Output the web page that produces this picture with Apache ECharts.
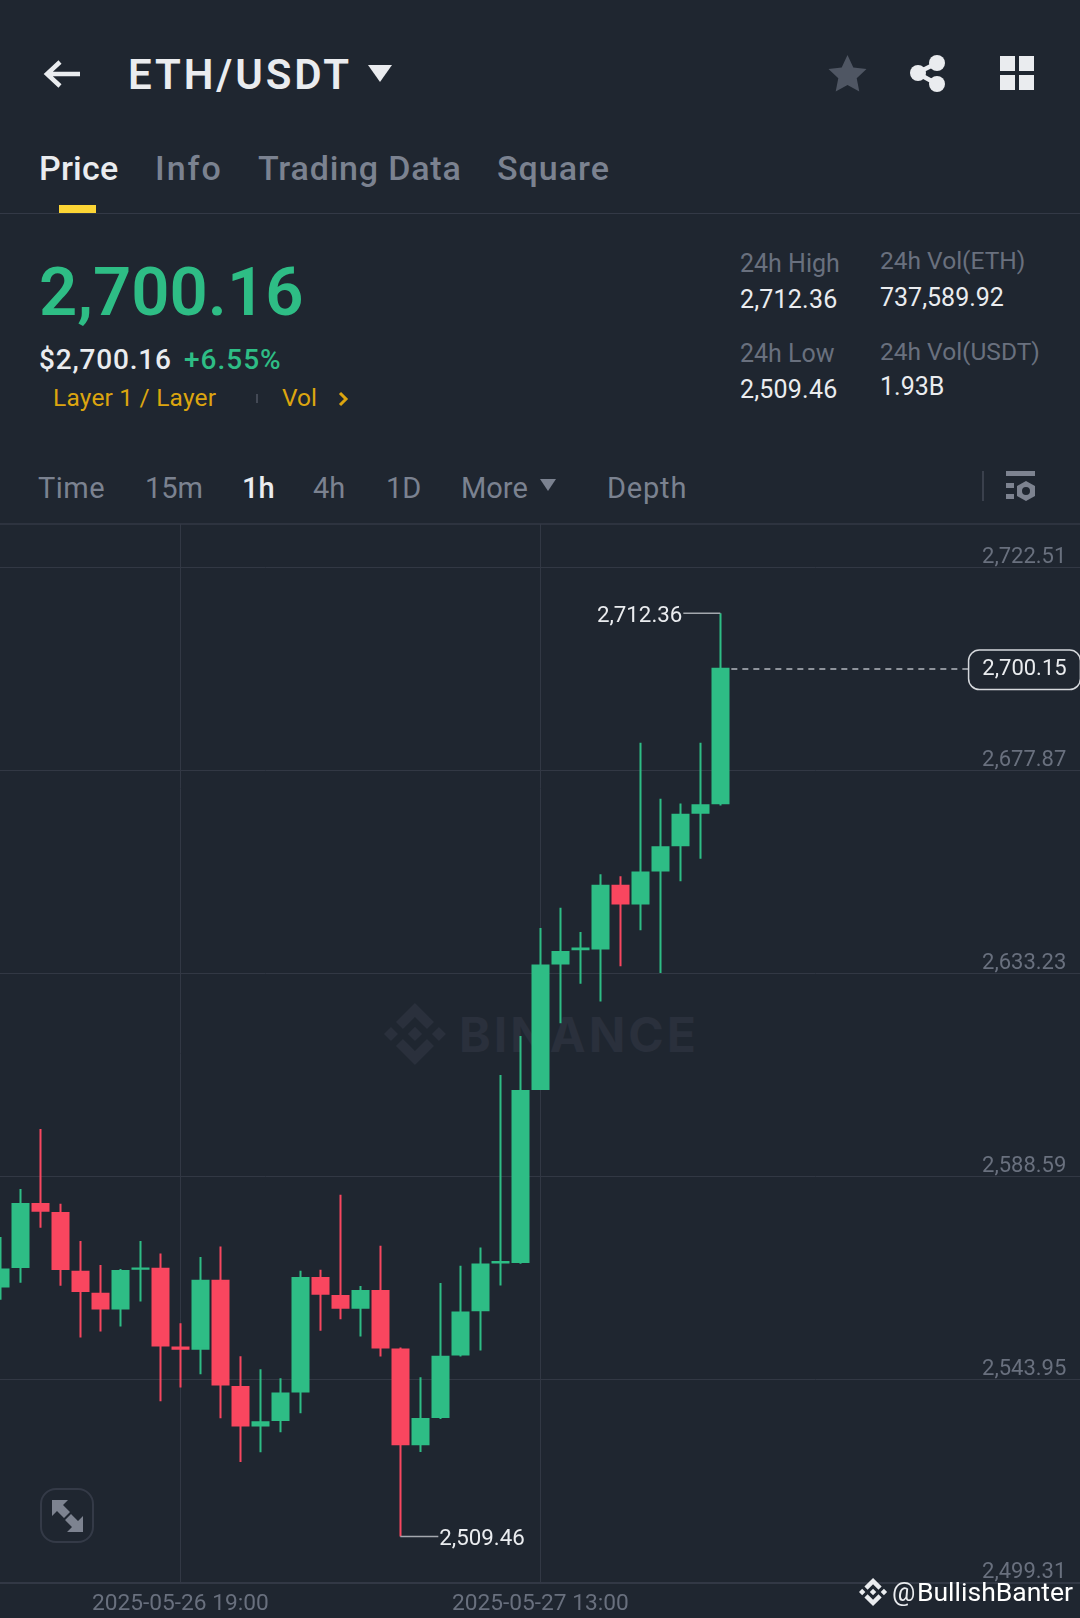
<!DOCTYPE html>
<html>
<head>
<meta charset="utf-8">
<title>ETH/USDT</title>
<script src="https://cdn.jsdelivr.net/npm/echarts@6/dist/echarts.min.js"></script>
<style>
html,body{margin:0;padding:0;background:#1f2630;width:1080px;height:1618px;overflow:hidden;font-family:Roboto,sans-serif}
#main{position:absolute;left:-20px;top:0;width:1120px;height:1618px;z-index:2}
#ui{position:absolute;left:0;top:0;width:1080px;height:1618px;z-index:1}
#top{position:absolute;left:0;top:0;width:1080px;height:1618px;z-index:3;pointer-events:none}
.t{position:absolute;white-space:nowrap;line-height:1}
.grey{color:#7b8290}
.dim{color:#69707e}
.white{color:#eaecef}
.gold{color:#dca50f}
svg{position:absolute;left:0;top:0}
</style>
</head>
<body>
<div id="ui">
  <svg width="1080" height="1618">
    <defs>
      <path id="logo" d="M7.34 10.08 12 5.42l4.66 4.66 2.71-2.71L12 0 4.63 7.37zM7.34 13.92 12 18.58l4.66-4.66 2.71 2.71L12 24l-7.37-7.37zM0 12l2.71-2.71L5.42 12l-2.71 2.71zM18.58 12l2.71-2.71L24 12l-2.71 2.71zM14.75 12 12 9.25 9.25 12 12 14.75z"/>
    </defs>
    <!-- watermark behind the candles -->
    <use href="#logo" transform="translate(384 1003) scale(2.58)" fill="#2a303c"/>
    <!-- header icons -->
    <path d="M80 74H48M60 62 47 74l13 12" fill="none" stroke="#eaecef" stroke-width="4.5"/>
    <path d="M368 65h24l-12 17z" fill="#eaecef"/>
    <path d="M847.5 55l5.8 12.4 13.2 1.6-9.8 9.2 2.6 13.3-11.8-6.6-11.8 6.6 2.6-13.3-9.8-9.2 13.2-1.6z" fill="#4f5663"/>
    <path d="M937 63 917 73 937 84" fill="none" stroke="#eaecef" stroke-width="4.5"/>
    <circle cx="937" cy="63" r="8" fill="#eaecef"/><circle cx="918" cy="73" r="8" fill="#eaecef"/><circle cx="937" cy="84" r="8" fill="#eaecef"/>
    <path d="M1000 56h15v15h-15zM1019 56h15v15h-15zM1000 75h15v15h-15zM1019 75h15v15h-15z" fill="#eaecef"/>
    <rect x="59" y="205" width="37" height="8" fill="#fcd535"/>
    <rect x="0" y="213" width="1080" height="1" fill="#333946"/>
    <rect x="256" y="394" width="2" height="9" fill="#434955"/>
    <path d="M340 393l6 6-6 6" fill="none" stroke="#dca50f" stroke-width="3"/>
    <path d="M540 479h16l-8 12z" fill="#7b8290"/>
    <rect x="982" y="471" width="2" height="30" fill="#3a404c"/>
    <path d="M1006 471h29v5h-29zM1006 483h8v5h-8zM1006 494h8v5h-8z" fill="#7d8390"/>
    <path fill-rule="evenodd" d="M1026 481l9 5v10l-9 5-9-5v-10zM1026 487a4 4 0 1 0 0 8 4 4 0 1 0 0-8z" fill="#7d8390"/>
    <rect x="0" y="523" width="1080" height="2" fill="#2d333f"/>
    <rect x="41" y="1489" width="52" height="53" rx="15" fill="none" stroke="#343a47" stroke-width="2"/>
    <path d="M52 1500h16l-5 5 7 7-6 6-7-7-5 5zM83 1532h-16l5-5-7-7 6-6 7 7 5-5z" fill="#7d8390"/>
  </svg>
  <div class="t" style="left:459px;top:1011px;font:700 48px Inter,sans-serif;letter-spacing:3px;color:#2a303c;line-height:1">BINANCE</div>

  <div class="t white" style="left:128px;top:54px;font-size:42px;font-weight:600;letter-spacing:2.9px">ETH/USDT</div>
  <div class="t white" style="left:39px;top:151px;font-size:34px;font-weight:500;letter-spacing:.2px">Price</div>
  <div class="t grey" style="left:155px;top:151px;font-size:34px;font-weight:500;letter-spacing:2px">Info</div>
  <div class="t grey" style="left:258px;top:151px;font-size:34px;font-weight:500;letter-spacing:.8px">Trading Data</div>
  <div class="t grey" style="left:497px;top:151px;font-size:34px;font-weight:500;letter-spacing:1px">Square</div>

  <div class="t" style="left:39px;top:259px;font-size:67px;font-weight:600;color:#2ebd85">2,700.16</div>
  <div class="t white" style="left:39px;top:346px;font-size:28px;font-weight:500;letter-spacing:.8px">$2,700.16</div>
  <div class="t" style="left:184px;top:346px;font-size:28px;font-weight:500;color:#2ebd85;letter-spacing:1px">+6.55%</div>
  <div class="t gold" style="left:53px;top:386px;font-size:24.5px;letter-spacing:.2px">Layer 1 / Layer</div>
  <div class="t gold" style="left:282px;top:386px;font-size:24.5px">Vol</div>

  <div class="t dim" style="left:740px;top:251px;font-size:25px">24h High</div>
  <div class="t white" style="left:740px;top:287px;font-size:25px;letter-spacing:.2px">2,712.36</div>
  <div class="t dim" style="left:740px;top:341px;font-size:25px">24h Low</div>
  <div class="t white" style="left:740px;top:377px;font-size:25px;letter-spacing:.2px">2,509.46</div>
  <div class="t dim" style="left:880px;top:249px;font-size:24.5px">24h Vol(ETH)</div>
  <div class="t white" style="left:880px;top:285px;font-size:25px">737,589.92</div>
  <div class="t dim" style="left:880px;top:340px;font-size:24.5px">24h Vol(USDT)</div>
  <div class="t white" style="left:880px;top:374px;font-size:25px">1.93B</div>

  <div class="t grey" style="left:38px;top:474px;font-size:29px;letter-spacing:.5px">Time</div>
  <div class="t grey" style="left:145px;top:474px;font-size:29px">15m</div>
  <div class="t white" style="left:242px;top:474px;font-size:29px;font-weight:500">1h</div>
  <div class="t grey" style="left:313px;top:474px;font-size:29px">4h</div>
  <div class="t grey" style="left:386px;top:474px;font-size:29px">1D</div>
  <div class="t grey" style="left:461px;top:474px;font-size:29px">More</div>
  <div class="t grey" style="left:607px;top:474px;font-size:29px;letter-spacing:.8px">Depth</div>
</div>
<div id="main"></div>
<div id="top">
  <svg width="1080" height="1618"><use href="#logo" transform="translate(859 1578) scale(1.17)" fill="#eaecef"/></svg>
  <div class="t white" style="left:892px;top:1579px;font-size:26px">@</div>
  <div class="t" style="left:917px;top:1579px;font-size:26.5px;color:#fff">BullishBanter</div>
</div>

<script>
// 1h candles, 2025-05-26 10:00 onwards
var categories = [
	'2025-05-26 10:00','2025-05-26 11:00','2025-05-26 12:00','2025-05-26 13:00','2025-05-26 14:00','2025-05-26 15:00',
	'2025-05-26 16:00','2025-05-26 17:00','2025-05-26 18:00','2025-05-26 19:00','2025-05-26 20:00','2025-05-26 21:00',
	'2025-05-26 22:00','2025-05-26 23:00','2025-05-27 00:00','2025-05-27 01:00','2025-05-27 02:00','2025-05-27 03:00',
	'2025-05-27 04:00','2025-05-27 05:00','2025-05-27 06:00','2025-05-27 07:00','2025-05-27 08:00','2025-05-27 09:00',
	'2025-05-27 10:00','2025-05-27 11:00','2025-05-27 12:00','2025-05-27 13:00','2025-05-27 14:00','2025-05-27 15:00',
	'2025-05-27 16:00','2025-05-27 17:00','2025-05-27 18:00','2025-05-27 19:00','2025-05-27 20:00','2025-05-27 21:00',
	'2025-05-27 22:00'
];
var opens = [
	2564.40,2568.67,2582.52,2580.54,2567.63,2562.80,2559.56,2568.29,2568.29,2550.99,2550.70,2565.65,
	2542.34,2533.83,2535.09,2541.31,2566.25,2562.29,2559.72,2563.39,2550.55,2529.74,2535.75,2549.45,
	2559.21,2569.68,2569.77,2607.81,2635.36,2638.51,2638.66,2652.45,2648.56,2655.81,2661.38,2668.50,
	2670.61
];
var closes = [
	2568.14,2582.52,2581.05,2568.23,2563.39,2559.56,2567.79,2568.36,2551.43,2550.70,2565.65,2542.85,
	2533.83,2534.58,2540.87,2566.25,2562.80,2559.72,2563.39,2550.99,2529.74,2535.31,2548.94,2558.68,
	2569.24,2569.77,2607.37,2634.92,2637.93,2638.66,2652.45,2648.56,2655.37,2660.94,2668.06,2670.17,
	2700.15
];
var lows = [
	2561.48,2565.21,2577.31,2564.55,2553.19,2554.50,2555.60,2561.10,2539.20,2542.19,2545.14,2535.46,
	2525.85,2527.98,2532.38,2536.56,2554.66,2557.23,2553.41,2549.01,2509.46,2528.05,2535.31,2549.01,
	2550.33,2564.62,2569.39,2607.60,2622.23,2630.96,2627.01,2634.77,2642.68,2633.32,2653.46,2658.39,
	2670.11
];
var highs = [
	2575.26,2585.82,2599.01,2582.59,2574.38,2569.11,2568.23,2574.38,2571.66,2556.35,2570.87,2573.20,
	2549.10,2546.24,2544.26,2567.85,2568.07,2584.56,2564.49,2573.35,2550.99,2544.48,2565.15,2568.95,
	2572.98,2610.89,2619.46,2643.21,2647.61,2642.33,2655.00,2654.56,2683.89,2671.58,2670.55,2683.89,
	2712.36
];
var yTicks = [2499.31,2543.95,2588.59,2633.23,2677.87,2722.51];
var labelledTimes = ['2025-05-26 19:00','2025-05-27 13:00'];
var lastPrice = 2700.15;
var highPrice = 2712.36;
var lowPrice = 2509.46;

function fmt(v) {
	return v.toLocaleString('en-US', {minimumFractionDigits: 2, maximumFractionDigits: 2});
}

// empty slots to the right of the last candle
var xData = categories.concat(new Array(18).fill(''));
var candles = opens.map(function(o, i) {
	return [o, closes[i], lows[i], highs[i]];
});
function isLabelled(index) {
	return labelledTimes.indexOf(xData[index]) >= 0;
}

// the chart div sticks out 20px each side so the first candle can sit half off the page
var myChart = echarts.init(document.getElementById('main'));
var option = {
	animation: false,
	backgroundColor: 'transparent',
	textStyle: {fontFamily: 'Roboto'},
	grid: {left: 10.33, right: 9.67, top: 524, bottom: 35.3},
	xAxis: {
		type: 'category',
		data: xData,
		boundaryGap: true,
		axisLine: {lineStyle: {color: '#323845', width: 2}},
		axisTick: {show: false},
		axisLabel: {interval: isLabelled, color: '#69707e', fontSize: 22.7, margin: 10},
		splitLine: {show: true, alignWithLabel: true, interval: isLabelled, lineStyle: {color: '#323844', width: 1}}
	},
	yAxis: {
		type: 'value',
		position: 'right',
		scale: true,
		min: 2499.31,
		max: 2731.97,
		axisLine: {show: false},
		axisTick: {show: false, customValues: yTicks},
		axisLabel: {
			inside: true,
			margin: 24,
			customValues: yTicks,
			color: '#69707e',
			fontSize: 22,
			verticalAlign: 'bottom',
			lineHeight: 20,
			formatter: fmt
		},
		splitLine: {show: true, lineStyle: {color: '#323844', width: 1}}
	},
	series: [{
		type: 'candlestick',
		data: candles,
		barWidth: 16,
		itemStyle: {
			color: '#2ebd85',
			color0: '#f9465f',
			borderColor: '#2ebd85',
			borderColor0: '#f9465f',
			borderWidth: 2
		},
		markLine: {
			z: 1,
			silent: true,
			symbol: 'none',
			lineStyle: {color: '#b4b8be', type: [6, 5], width: 1.5},
			label: {
				position: 'end',
				distance: -11,
				offset: [0, 1],
				formatter: fmt(lastPrice),
				color: '#eaecef',
				fontSize: 22,
				backgroundColor: '#1f2630',
				borderColor: '#d5d8dc',
				borderWidth: 1.5,
				borderRadius: 10,
				padding: [12, 13, 4, 13]
			},
			data: [[{coord: [36, lastPrice]}, {coord: [49, lastPrice]}]]
		},
		markPoint: {
			silent: true,
			symbol: 'rect',
			itemStyle: {color: '#a4a8ae'},
			label: {color: '#eaecef', fontSize: 22.3, offset: [0, 3]},
			data: [
				{coord: [36, highPrice], symbolSize: [37, 1.5], symbolOffset: [-18.5, 0],
					label: {position: 'left', distance: 1, formatter: fmt(highPrice)}},
				{coord: [20, lowPrice], symbolSize: [38, 1.5], symbolOffset: [19, 0],
					label: {position: 'right', distance: 1, formatter: fmt(lowPrice)}}
			]
		}
	}]
};
myChart.setOption(option);
</script>
</body>
</html>
